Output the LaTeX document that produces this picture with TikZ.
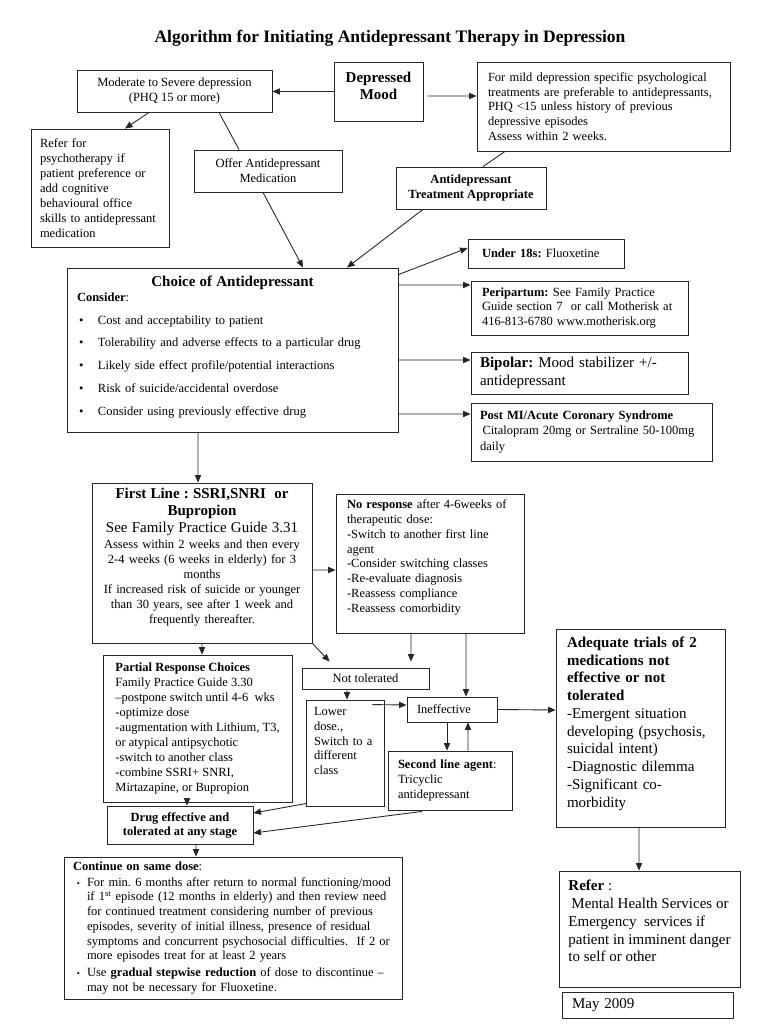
\documentclass[tikz,border=0pt]{standalone}
\usepackage{fontspec}
\setmainfont{Liberation Serif}
\usetikzlibrary{arrows.meta}

\newcommand{\padbelow}[1]{\rule[-#1]{0pt}{#1}}
\newcommand{\choicebul}{\hspace*{1.6pt}\makebox[15.2pt][l]{\textbullet}}
\newcommand{\contbul}{\hspace*{3pt}\makebox[8.2pt][l]{\scriptsize\textbullet}}
\newcommand{\contind}{\hspace*{11.2pt}}

\begin{document}
\frenchspacing
\begin{tikzpicture}[
  x=0.8pt, y=-0.8pt,
  box/.style={draw=black!85, line width=0.7pt, inner ysep=2pt,
              font=\fontsize{10}{11.8}\selectfont},
  cbox/.style={box, align=center},
  lbox/.style={box, align=left},
  big/.style={font=\fontsize{12}{14.2}\selectfont},
  dep/.style={-{Triangle[length=6pt,width=5pt]}, line width=0.7pt, draw=black!85},
  link/.style={line width=0.7pt, draw=black!85}
]
  \path[fill=white] (0,0) rectangle (768,1024);

  %-- Title
  \node[font=\fontsize{14}{16}\selectfont\bfseries] (title) at (390,38)
    {Algorithm for Initiating Antidepressant Therapy in Depression};

  %-- Top row
  \node[cbox, minimum width=71.2pt, minimum height=47.2pt,
        font=\fontsize{12}{13.6}\selectfont\bfseries] (mood) at (378.5,91.5)
    {Depressed\\Mood\padbelow{9.6pt}};
  \node[cbox, minimum width=156pt, minimum height=33.6pt] (moder) at (174.5,91)
    {Moderate to Severe depression\\(PHQ 15 or more)};
  \node[lbox, text width=184.8pt, inner xsep=8.8pt, minimum height=71.2pt] (mild) at (603.5,106.5)
    {For mild depression specific psychological\\
     treatments are preferable to antidepressants,\\
     PHQ <15 unless history of previous\\
     depressive episodes\\
     Assess within 2 weeks.};
  \node[lbox, text width=96pt, inner xsep=7.2pt, minimum height=94.4pt, font=\fontsize{10}{12}\selectfont] (refpsy) at (100,188)
    {Refer for\\psychotherapy if\\patient preference or\\add cognitive\\behavioural office\\skills to antidepressant\\medication};
  \node[cbox, minimum width=118.4pt, minimum height=33.6pt] (offer) at (268,171)
    {Offer Antidepressant\\Medication};
  \node[cbox, minimum width=120pt, minimum height=33.6pt, font=\fontsize{10}{12}\selectfont\bfseries] (ata) at (471,188)
    {Antidepressant\\Treatment Appropriate};

  %-- Choice of antidepressant
  \node[lbox, text width=248.8pt, inner xsep=8pt, minimum height=131.2pt] (choice) at (232.5,350)
    {\hfill{\fontsize{12}{14}\selectfont\bfseries Choice of Antidepressant}\hfill\null\\
     \textbf{Consider}:\\[6.4pt]
     \choicebul Cost and acceptability to patient\\[6.4pt]
     \choicebul Tolerability and adverse effects to a particular drug\\[6.4pt]
     \choicebul Likely side effect profile/potential interactions\\[6.4pt]
     \choicebul Risk of suicide/accidental overdose\\[6.4pt]
     \choicebul Consider using previously effective drug\padbelow{7pt}};
  \node[lbox, text width=102.4pt, inner xsep=11.2pt, minimum height=23.2pt] (u18) at (546,253.5)
    {\textbf{Under 18s:} Fluoxetine};
  \node[lbox, text width=156pt, inner xsep=8.8pt, minimum height=43.2pt] (peri) at (579.5,308)
    {\textbf{Peripartum:} See Family Practice\\Guide section 7~ or call Motherisk at\\416-813-6780 www.motherisk.org};
  \node[lbox, big, text width=159.2pt, inner xsep=7.2pt, minimum height=33.6pt] (bip) at (579.5,373)
    {\textbf{Bipolar:} Mood stabilizer +/-\\antidepressant};
  \node[lbox, text width=178.4pt, inner xsep=7.2pt, minimum height=46.4pt, font=\fontsize{10}{12.4}\selectfont] (postmi) at (591.5,432)
    {\textbf{Post MI/Acute Coronary Syndrome}\\\hspace*{2pt}Citalopram 20mg or Sertraline 50-100mg\\daily};

  %-- First line and follow up
  \node[cbox, text width=163.2pt, inner xsep=6.4pt, minimum height=128pt, font=\fontsize{10}{12}\selectfont] (first) at (202,563)
    {{\fontsize{12}{14}\selectfont\bfseries First Line : SSRI,SNRI~ or}\\[1.3pt]
     {\fontsize{12}{14}\selectfont\bfseries Bupropion}\\[1.6pt]
     {\fontsize{12}{14}\selectfont See Family Practice Guide 3.31}\\[0.8pt]
     Assess within 2 weeks and then every\\
     2-4 weeks (6 weeks in elderly) for 3\\
     months\\
     If increased risk of suicide or younger\\
     than 30 years, see after 1 week and\\
     frequently thereafter.\padbelow{11.8pt}};
  \node[lbox, text width=132.8pt, inner xsep=8.8pt, minimum height=111.2pt] (nores) at (430,563.5)
    {\textbf{No response} after 4-6weeks of\\therapeutic dose:\\-Switch to another first line\\agent\\-Consider switching classes\\-Re-evaluate diagnosis\\-Reassess compliance\\-Reassess comorbidity\padbelow{11.8pt}};
  \node[lbox, inner xsep=4pt, minimum width=151.2pt, minimum height=117.6pt, font=\fontsize{10}{12}\selectfont] (partial) at (197.5,728.5)
    {\textbf{Partial Response Choices}\\Family Practice Guide 3.30\\\textendash postpone switch until 4-6~ wks\\-optimize dose\\-augmentation with Lithium, T3,\\or atypical antipsychotic\\-switch to another class\\-combine SSRI+ SNRI,\\Mirtazapine, or Bupropion};
  \node[cbox, minimum width=101.6pt, minimum height=16.8pt] (nottol) at (365.5,678.5)
    {Not tolerated};
  \node[lbox, text width=49.6pt, inner xsep=6.4pt, minimum height=84.8pt] (lower) at (345,753)
    {Lower\\dose.,\\Switch to a\\different\\class\padbelow{19.2pt}};
  \node[lbox, text width=56pt, inner xsep=8pt, minimum height=20pt] (ineff) at (452,709.5)
    {Ineffective};
  \node[lbox, text width=83.2pt, inner xsep=8pt, minimum height=47.2pt] (second) at (450,780.5)
    {\textbf{Second line agent}:\\Tricyclic\\antidepressant};
  \node[cbox, minimum width=116.8pt, minimum height=30.4pt, font=\fontsize{10}{11.2}\selectfont\bfseries] (drug) at (180,825)
    {Drug effective and\\tolerated at any stage};

  %-- Continue
  \node[lbox, text width=256pt, inner xsep=7.2pt, minimum height=113.6pt] (cont) at (233,928)
    {\textbf{Continue on same dose}:\\[1pt]
     \contbul For min. 6 months after return to normal functioning/mood\\
     \contind if 1\textsuperscript{st} episode (12 months in elderly) and then review need\\
     \contind for continued treatment considering number of previous\\
     \contind episodes, severity of initial illness, presence of residual\\
     \contind symptoms and concurrent psychosocial difficulties.~ If 2 or\\
     \contind more episodes treat for at least 2 years\\[1.8pt]
     \contbul Use \textbf{gradual stepwise reduction} of dose to discontinue \textendash\\
     \contind may not be necessary for Fluoxetine.};

  %-- Referral
  \node[lbox, big, text width=117.6pt, inner xsep=8.8pt, minimum height=158.4pt] (adeq) at (640.5,728)
    {\textbf{Adequate trials of 2}\\\textbf{medications not}\\\textbf{effective or not}\\\textbf{tolerated}\\-Emergent situation\\developing (psychosis,\\suicidal intent)\\-Diagnostic dilemma\\-Significant co-\\morbidity\padbelow{9.8pt}};
  \node[lbox, big, inner xsep=4pt, minimum width=144.8pt, minimum height=92.8pt] (refer) at (649.5,929)
    {\textbf{Refer} :\\\hspace*{2.4pt}Mental Health Services or\\Emergency~ services if\\patient in imminent danger\\to self or other\padbelow{12.8pt}};
  \node[lbox, big, text width=120.8pt, inner xsep=8pt, minimum height=20.8pt] (may) at (647.5,1005)
    {May 2009};

  %-- Arrows
  \draw[dep]  (mood.west) -- (mood.west -| moder.east);
  \draw[dep]  ([xshift=3.2pt,yshift=-3.6pt]mood.east) -- ([yshift=8.4pt]mild.west);
  \draw[dep]  ([xshift=-20.4pt]moder.south) -- ([xshift=20pt]refpsy.north);
  \draw[link] ([xshift=35.6pt]moder.south) -- ([xshift=-23.2pt]offer.north);
  \draw[link] ([xshift=-78.8pt]mild.south) -- ([xshift=9.6pt]ata.north);
  \draw[dep]  ([xshift=-4pt]offer.south) -- ([xshift=56.4pt]choice.north);
  \draw[dep]  ([xshift=-38.4pt]ata.south) -- ([xshift=91.6pt]choice.north);
  \draw[dep]  ([yshift=-5.6pt]choice.north east) -- ([yshift=4.4pt]u18.west);
  \draw[dep]  ([yshift=52pt]choice.east) -- ([yshift=18.4pt]peri.west);
  \draw[dep]  ([yshift=-8pt]choice.east) -- ([yshift=10.4pt]bip.west);
  \draw[dep]  ([yshift=-51.2pt]choice.east) -- ([yshift=14.4pt]postmi.west);
  \draw[dep]  ([xshift=-27.6pt]choice.south) -- ([xshift=-3.2pt]first.north);
  \draw[dep]  ([yshift=-5.6pt]first.east) -- ([yshift=-5.2pt]nores.west);
  \draw[dep]  (first.south) -- ([xshift=3.6pt]partial.north);
  \draw[dep]  (first.south east) -- ([xshift=22.4pt,yshift=4.8pt]nottol.north west);
  \draw[dep]  ([xshift=-15.2pt]nores.south) -- ([xshift=36.4pt,yshift=4.8pt]nottol.north);
  \draw[dep]  ([xshift=28.8pt]nores.south) -- ([xshift=11.2pt]ineff.north);
  \draw[dep]  ([xshift=-14.8pt]nottol.south) -- ([xshift=1.6pt]lower.north);
  \draw[dep]  ([xshift=-9.6pt,yshift=-4pt]lower.north east) -- ([yshift=3.6pt]ineff.west);
  \draw[dep]  (ineff.east) -- ([yshift=14.4pt]adeq.west);
  \draw[dep]  ([xshift=-4pt]ineff.south) -- ([xshift=-2.4pt]second.north);
  \draw[dep]  ([xshift=14.4pt]second.north) -- ([xshift=12.8pt]ineff.south);
  \draw[dep]  ([xshift=-8.4pt]partial.south) -- ([xshift=5.6pt]drug.north);
  \draw[dep]  ([xshift=0.8pt,yshift=2.4pt]lower.south west) -- ([yshift=9.6pt]drug.east);
  \draw[dep]  ([xshift=-22.4pt,yshift=-0.8pt]second.south) -- ([yshift=-6.4pt]drug.east);
  \draw[dep]  ([xshift=12.8pt]drug.south) -- ([xshift=-29.6pt]cont.north);
  \draw[dep]  ([xshift=-1.2pt]adeq.south) -- ([xshift=-8.4pt]refer.north);
\end{tikzpicture}
\end{document}
